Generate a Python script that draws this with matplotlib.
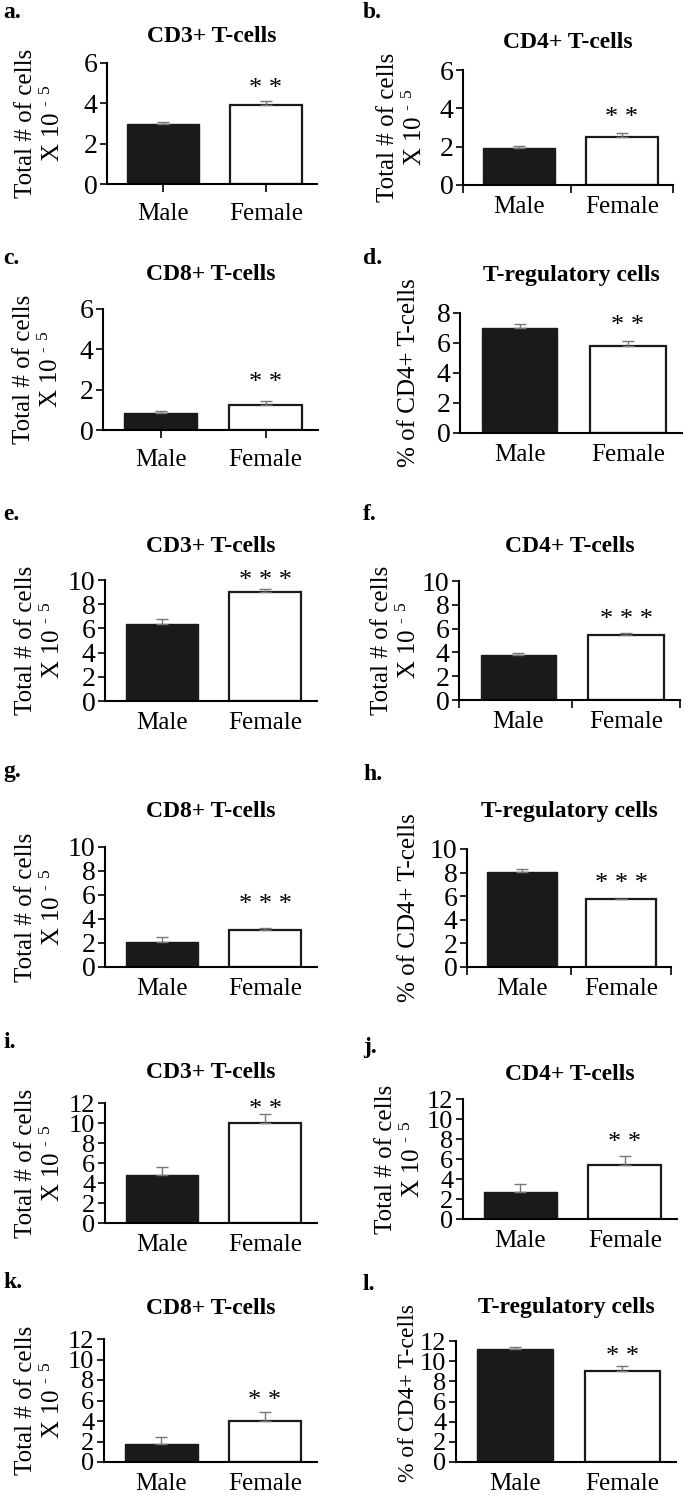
import matplotlib
matplotlib.use("Agg")
import matplotlib.pyplot as plt
from matplotlib.transforms import ScaledTranslation

plt.rcParams["font.family"] = ["Liberation Serif", "DejaVu Serif"]
plt.rcParams["mathtext.fontset"] = "custom"
plt.rcParams["mathtext.rm"] = "Liberation Serif"
plt.rcParams["mathtext.default"] = "regular"

# data
letters = ["a.", "b.", "c.", "d.", "e.", "f.", "g.", "h.", "i.", "j.", "k.", "l."]
titles = ["CD3+ T-cells", "CD4+ T-cells", "CD8+ T-cells", "T-regulatory cells"] * 3
groups = ["Male", "Female"]
male_means = [3.0, 1.95, 0.86, 7.0, 6.4, 3.8, 2.1, 8.03, 4.85, 2.73, 1.73, 11.2]
male_err = [0.07, 0.1, 0.08, 0.29, 0.37, 0.13, 0.37, 0.25, 0.72, 0.77, 0.72, 0.23]
female_means = [3.9, 2.5, 1.26, 5.78, 9.03, 5.5, 3.06, 5.75, 10.0, 5.4, 3.98, 9.05]
female_err = [0.2, 0.2, 0.17, 0.38, 0.2, 0.1, 0.22, 0.05, 0.93, 0.93, 0.92, 0.45]
stars = ["* *"] * 4 + ["* * *"] * 4 + ["* *"] * 4
star_y = [5.0, 3.83, 2.65, 7.5, 10.4, 7.26, 5.64, 7.58, 11.9, 8.2, 6.5, 11.0]
ymax = [6, 6, 6, 8, 10, 10, 10, 10, 12, 12, 12, 12]
count_label = "Total # of cells\nX 10 $^{\u2010\\ 5}$"
treg_label = "% of CD4+ T-cells"

W, H = 685, 1498
# axes boxes in pixels: x0, x1, ytop, ybottom
boxes = [(107, 317, 63, 184), (463, 673, 70, 185),
         (103, 318, 309, 430), (460, 682, 313, 433),
         (105, 317, 580, 701), (459, 680, 581, 700),
         (105, 317, 847, 967), (467, 671, 849, 967),
         (105, 317, 1103, 1223), (463, 677, 1099, 1219),
         (104, 317, 1339, 1462), (456, 676, 1341, 1462)]
title_y = [37, 43, 275, 275, 547, 547, 812, 812, 1073, 1075, 1308, 1308]
letter_y = [13, 13, 258, 258, 515, 515, 772, 775, 1042, 1047, 1282, 1285]
label_x = [40, 402, 38, 409, 40, 396, 40, 409, 40, 400, 40, 408]
label_y_shift = [0, 0, 0, 0, 0, 0, 0, 0, 0, 0, 0, -8]
tick_style = ["center", "edge", "center", None, None, "edge", None, "edge",
              None, None, None, None]

fig = plt.figure(figsize=(W / 100, H / 100), dpi=100)
star_shift = ScaledTranslation(0, -6 / 100, fig.dpi_scale_trans)

for i in range(12):
    x0, x1, yt, yb = boxes[i]
    ax = fig.add_axes([x0 / W, 1 - yb / H, (x1 - x0) / W, (yb - yt) / H])
    ax.bar([0], [male_means[i]], width=0.7, color="#1a1a1a", edgecolor="#1a1a1a",
           yerr=[[0], [male_err[i]]], capsize=4,
           error_kw=dict(ecolor="#777777", elinewidth=1, capthick=1))
    ax.bar([1], [female_means[i]], width=0.7, color="white", edgecolor="#1a1a1a",
           linewidth=1.6, yerr=[[0], [female_err[i]]], capsize=4,
           error_kw=dict(ecolor="#777777", elinewidth=1, capthick=1))
    ax.set_xlim(-0.55, 1.5)
    ax.set_ylim(0, ymax[i])
    ax.set_yticks(range(0, ymax[i] + 1, 2))
    ax.set_xticks([0, 1])
    ax.set_xticklabels(groups)
    ax.tick_params(axis="y", labelsize=20 if ymax[i] < 12 else 19, length=5,
                   width=1.2, pad=2)
    ax.tick_params(axis="x", labelsize=18, pad=8, width=1.2,
                   length=6 if tick_style[i] == "center" else 0)
    if tick_style[i] == "edge":
        ax.set_xticks([-0.55, 0.5, 1.5], minor=True)
        ax.tick_params(axis="x", which="minor", length=6, width=1.2)
    for s in ["top", "right"]:
        ax.spines[s].set_visible(False)
    for s in ["left", "bottom"]:
        ax.spines[s].set_linewidth(1.5)
    ax.text(1, star_y[i], stars[i], ha="center", va="center", fontsize=19,
            clip_on=False, transform=ax.transData + star_shift)
    ly = 1 - ((yt + yb) / 2 + label_y_shift[i]) / H
    if i % 4 == 3:
        fig.text(label_x[i] / W, ly, treg_label, rotation=90,
                 ha="center", va="center", fontsize=18 if i < 11 else 17)
    else:
        fig.text(label_x[i] / W, ly, count_label, rotation=90,
                 ha="center", va="center", fontsize=18, linespacing=1.2,
                 multialignment="center")
    fig.text((x0 + x1) / 2 / W, 1 - title_y[i] / H, titles[i], ha="center",
             va="center", fontsize=17, fontweight="bold")
    fig.text((3 if i % 2 == 0 else 363) / W, 1 - letter_y[i] / H, letters[i],
             ha="left", va="center", fontsize=17, fontweight="bold")

fig.savefig("out.png", dpi=100)
